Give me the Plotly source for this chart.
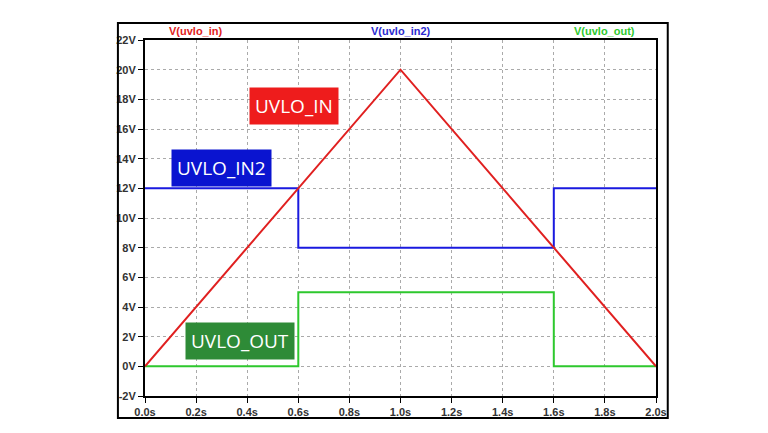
import plotly.graph_objects as go

t_in = [0.0, 1.0, 2.0]
v_in = [0, 20, 0]
t_in2 = [0.0, 0.6, 0.6, 1.6, 1.6, 2.0]
v_in2 = [12, 12, 8, 8, 12, 12]
t_out = [0.0, 0.6, 0.6, 1.6, 1.6, 2.0]
v_out = [0, 0, 5, 5, 0, 0]
yticks = list(range(-2, 23, 2))
xticks = [i/5 for i in range(11)]

fig = go.Figure()
fig.add_trace(go.Scatter(x=t_in2, y=v_in2, mode="lines", line=dict(color="#1a1adf", width=2)))
fig.add_trace(go.Scatter(x=t_out, y=v_out, mode="lines", line=dict(color="#2ec82e", width=2)))
fig.add_trace(go.Scatter(x=t_in, y=v_in, mode="lines", line=dict(color="#e02020", width=2)))

ax = dict(showline=True, linecolor="black", linewidth=2, mirror=True, ticks="outside", automargin=False,
          ticklen=5, tickcolor="black", showgrid=True, gridcolor="#aaaaaa", griddash="dot",
          gridwidth=1, zeroline=False, tickfont=dict(family="Liberation Sans", size=11, color="#333", weight="bold"))
fig.update_xaxes(range=[0, 2], tickvals=xticks, ticktext=[f"{v:.1f}s" for v in xticks], **ax)
fig.update_yaxes(range=[-2, 22], tickvals=yticks, ticktext=[f"{v}V" for v in yticks], **ax)

fig.add_shape(type="rect", xref="paper", yref="paper", x0=-0.053, x1=1.023, y0=-0.062, y1=1.048,
              line=dict(color="black", width=2))
for txt, x, col in [("V(uvlo_in)", 0.2, "#e02020"), ("V(uvlo_in2)", 1.0, "#2a2ad0"), ("V(uvlo_out)", 1.8, "#2ec82e")]:
    fig.add_annotation(x=x, y=1.0, xref="x", yref="paper", yanchor="bottom", yshift=1, text="<b>"+txt+"</b>",
                       showarrow=False, font=dict(family="Liberation Sans", size=11, color=col))
for txt, x, y, bg in [("UVLO_IN", 0.583, 17.55, "#ee1c1c"), ("UVLO_IN2", 0.30, 13.4, "#0a14d0"),
                      ("UVLO_OUT", 0.37, 1.7, "#2e8b37")]:
    fig.add_annotation(x=x, y=y, text=txt, showarrow=False, bgcolor=bg, borderpad=5,
                       font=dict(family="Open Sans", size=19, color="white"))

fig.update_layout(width=768, height=433, showlegend=False, plot_bgcolor="white", paper_bgcolor="white",
                  margin=dict(l=137, r=120, t=32, b=45))
fig.write_html("out.html")
